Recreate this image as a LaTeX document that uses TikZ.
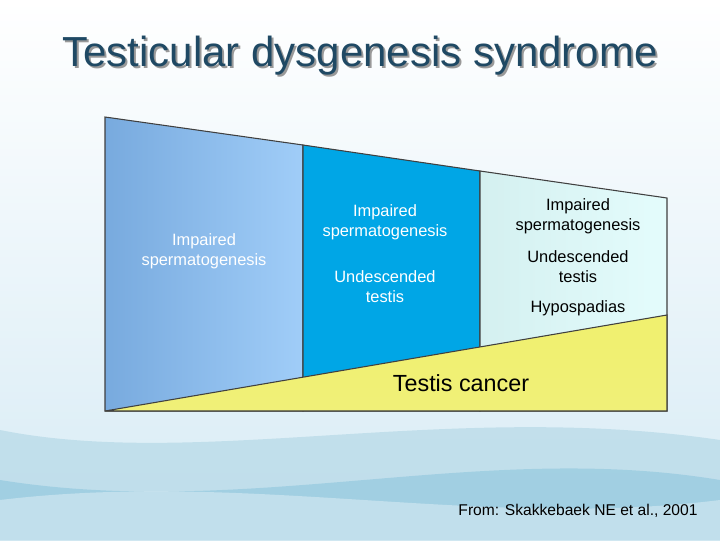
\documentclass[tikz,border=0pt]{standalone}
\usepackage{fontspec}
\setmainfont{Liberation Sans}
\definecolor{titlec}{RGB}{31,73,100}
\definecolor{b1l}{RGB}{120,170,222}
\definecolor{b1r}{RGB}{160,205,248}
\definecolor{b2}{RGB}{0,166,230}
\definecolor{b3l}{RGB}{212,240,240}
\definecolor{b3r}{RGB}{228,252,252}
\definecolor{yel}{RGB}{240,240,110}
\definecolor{yelb}{RGB}{240,240,120}
\definecolor{bgb}{RGB}{215,235,245}
\begin{document}
\begin{tikzpicture}[x=0.75pt,y=-0.75pt,
  ptxt/.style={align=center,font=\fontsize{12.3}{15}\selectfont},
  edge/.style={draw=black!75,line width=0.8pt}]
\useasboundingbox (0,0) rectangle (720,540);
\shade[top color=white,bottom color=bgb] (0,0) rectangle (720,540);
\fill[cyan!40!teal!35,opacity=0.6] (0,430) .. controls (200,470) and (450,400) .. (720,440) -- (720,540) -- (0,540) -- cycle;
\fill[cyan!50!teal!55,opacity=0.5] (0,480) .. controls (250,520) and (480,440) .. (720,480) -- (720,540) -- (0,540) -- cycle;
\fill[white,opacity=0.35] (0,500) .. controls (250,470) and (480,530) .. (720,500) -- (720,540) -- (0,540) -- cycle;
\node (title) at (362,58) [font=\fontsize{31.5}{34}\selectfont,text=black!40] {Testicular dysgenesis syndrome};
\node (titlef) at (360,56) [font=\fontsize{31.5}{34}\selectfont,text=titlec] {Testicular dysgenesis syndrome};
\shade[left color=b1l,right color=b1r,edge] (105,117) -- (303,145) -- (303,411) -- (105,411) -- cycle;
\fill[b2,edge] (303,145) -- (480,171) -- (480,411) -- (303,411) -- cycle;
\shade[left color=b3l,right color=b3r,edge] (480,171) -- (667,198) -- (667,411) -- (480,411) -- cycle;
\shade[top color=yel,bottom color=yelb,edge] (105,411) -- (667,315) -- (667,411) -- cycle;
\node (p1) at (204,251) [ptxt,text=white] {Impaired\\spermatogenesis};
\node (p2a) at (385,222) [ptxt,text=white] {Impaired\\spermatogenesis};
\node (p2b) at (385,287) [ptxt,text=white] {Undescended\\testis};
\node (p3a) at (578,216) [ptxt] {Impaired\\spermatogenesis};
\node (p3b) at (578,267) [ptxt] {Undescended\\testis};
\node (p3c) at (578,308) [ptxt] {Hypospadias};
\node (tc) at (461,383) [font=\fontsize{17.5}{20}\selectfont] {Testis cancer};
\node (src) at (578,511) [font=\fontsize{11.7}{13}\selectfont] {From: Skakkebaek NE et al., 2001};
\end{tikzpicture}
\end{document}
